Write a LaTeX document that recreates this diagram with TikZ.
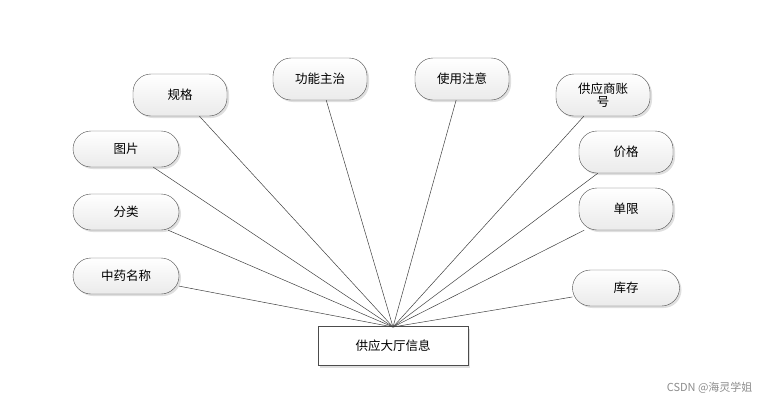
\documentclass[tikz,border=0pt]{standalone}
\usepackage{fontspec}
\setmainfont{Noto Sans CJK SC}
\usetikzlibrary{shadows}
\begin{document}
\begin{tikzpicture}[x=1pt,y=-1pt,
  attr/.style={draw=black!70,rounded corners=18pt,minimum width=94pt,minimum height=42pt,
    top color=white,bottom color=black!8,drop shadow={shadow xshift=2pt,shadow yshift=-2pt,fill=black!25},
    font=\fontsize{12.5}{13}\selectfont,align=center,inner sep=1pt},
  ent/.style={draw=black!70,minimum width=150pt,minimum height=39pt,fill=white,
    drop shadow={shadow xshift=2pt,shadow yshift=-2pt,fill=black!25},font=\fontsize{12.5}{13}\selectfont},
  ln/.style={draw=black!75,line width=0.5pt}]
\useasboundingbox (0,0) rectangle (768,407);
\node[attr] (gg) at (180,95) {规格};
\node[attr] (gn) at (320,79) {功能主治};
\node[attr] (sy) at (462,79) {使用注意};
\node[attr] (zh) at (603,95) {供应商账\\号};
\node[attr,minimum width=106pt,minimum height=36pt] (tp) at (126,149) {图片};
\node[attr] (jg) at (626,152) {价格};
\node[attr,minimum width=106pt,minimum height=36pt] (fl) at (126,212) {分类};
\node[attr] (dx) at (626,209) {单限};
\node[attr,minimum width=106pt,minimum height=36pt] (mc) at (126,276) {中药名称};
\node[attr,minimum width=107pt,minimum height=36pt] (kc) at (626,288) {库存};
\node[ent] (c) at (393,346) {供应大厅信息};
\coordinate (p) at (393,327);
\foreach \n in {gg,gn,sy,zh,tp,jg,fl,dx,mc,kc} \draw[ln] (\n) -- (p);
\node[text=black!45,font=\fontsize{11}{12}\selectfont,anchor=east] (wm) at (756,388) {CSDN @海灵学姐};
\end{tikzpicture}
\end{document}
